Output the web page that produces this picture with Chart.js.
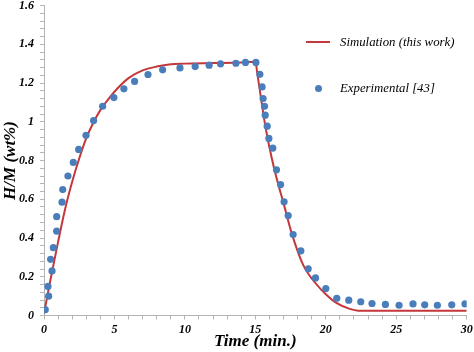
<!DOCTYPE html>
<html>
<head>
<meta charset="utf-8">
<script src="https://cdn.jsdelivr.net/npm/chart.js@4.4.1/dist/chart.umd.min.js"></script>
<style>
    html, body { margin: 0; padding: 0; background: #fff; }
    #wrap { position: relative; width: 474px; height: 352px; overflow: hidden; }
    #legend { position: absolute; left: 0; top: 0; font-family: "Liberation Serif", serif; font-style: italic; font-size: 12.8px; color: #000; }
    .row { position: absolute; left: 300px; height: 16px; line-height: 16px; white-space: nowrap; }
    .row .txt { position: absolute; left: 40px; top: 0; }
    .swatch-line { position: absolute; left: 6px; top: 7px; width: 24px; height: 2px; background: #c4373b; }
    .swatch-dot { position: absolute; left: 14.5px; top: 4.5px; width: 7px; height: 7px; border-radius: 50%; background: #4a7ebb; }
</style>
</head>
<body>
<div id="wrap">
    <canvas id="chart" width="474" height="352"></canvas>
    <div id="legend">
        <div class="row" style="top:34px"><span class="swatch-line"></span><span class="txt">Simulation (this work)</span></div>
        <div class="row" style="top:80px"><span class="swatch-dot"></span><span class="txt">Experimental [43]</span></div>
    </div>
</div>
<script>
// Simulation curve (min, wt%)
const simTime = [0, 0.5, 1, 1.5, 2, 2.5, 3, 3.5, 4, 4.5, 5, 6, 7, 8, 9, 10, 12, 14, 15,
                 15.15, 15.72, 16.33, 17, 17.6, 18.4, 19.35, 20, 20.75, 21.7, 22.3, 25, 30];
const simHM   = [0.01, 0.2, 0.38, 0.55, 0.69, 0.81, 0.915, 0.995, 1.06, 1.11, 1.155, 1.225, 1.265, 1.285, 1.297, 1.3, 1.303, 1.306, 1.31,
                 1.243, 0.973, 0.76, 0.58, 0.42, 0.26, 0.16, 0.11, 0.065, 0.034, 0.025, 0.025, 0.025];

// Experimental points [43]
const expTime = [0.09, 0.28, 0.33, 0.47, 0.57, 0.66, 0.9, 0.9, 1.28, 1.33, 1.7, 2.08, 2.46, 2.98, 3.52, 4.16, 4.96, 5.67,
                 6.43, 7.38, 8.42, 9.65, 10.73, 11.72, 12.53, 13.62, 14.3, 15.04, 15.32, 15.48, 15.55, 15.65, 15.7, 15.84,
                 15.96, 16.24, 16.5, 16.79, 17.04, 17.33, 17.68, 18.23, 18.75, 19.27, 20, 20.78, 21.63, 22.48, 23.28,
                 24.23, 25.2, 26.19, 27.02, 27.92, 28.94, 29.88];
const expHM   = [0.03, 0.15, 0.1, 0.29, 0.23, 0.35, 0.435, 0.51, 0.585, 0.65, 0.72, 0.79, 0.857, 0.93, 1.006, 1.08, 1.125, 1.17,
                 1.208, 1.244, 1.268, 1.278, 1.285, 1.292, 1.299, 1.302, 1.306, 1.306, 1.245, 1.18, 1.12, 1.08, 1.034, 0.977,
                 0.914, 0.864, 0.752, 0.676, 0.587, 0.516, 0.418, 0.334, 0.241, 0.194, 0.139, 0.089, 0.079, 0.071, 0.062,
                 0.057, 0.053, 0.06, 0.055, 0.053, 0.055, 0.06];

const axisColor = '#b4b4b4';
const tickFont = { family: 'Liberation Serif', weight: 'bold', style: 'italic', size: 12 };

function toPoints(xs, ys) {
    return xs.map((x, i) => ({ x: x, y: ys[i] }));
}

// only label every 5 min / every 0.2 wt%, the rest are minor ticks
function majorLabel(value, every) {
    const r = value / every;
    if (Math.abs(r - Math.round(r)) > 1e-6) return '';
    return String(Math.round(value * 10) / 10);
}

new Chart(document.getElementById('chart'), {
    type: 'scatter',
    data: {
        datasets: [
            {
                label: 'Experimental [43]',
                data: toPoints(expTime, expHM),
                pointRadius: 3.6,
                pointBackgroundColor: '#4a7ebb',
                pointBorderWidth: 0,
                order: 0
            },
            {
                label: 'Simulation (this work)',
                data: toPoints(simTime, simHM),
                showLine: true,
                borderColor: '#c4373b',
                borderWidth: 2,
                pointRadius: 0,
                cubicInterpolationMode: 'monotone',
                order: 1
            }
        ]
    },
    options: {
        responsive: false,
        animation: false,
        layout: { padding: { top: 5.5, right: 7.3, left: 0, bottom: 0 } },
        plugins: { legend: { display: false }, tooltip: { enabled: false } },
        scales: {
            x: {
                type: 'linear',
                min: 0, max: 30,
                ticks: {
                    stepSize: 1, autoSkip: false, maxRotation: 0, padding: 3,
                    color: '#000', font: tickFont,
                    callback: (v) => majorLabel(v, 5)
                },
                grid: { drawOnChartArea: false, tickLength: 4, color: axisColor },
                border: { color: axisColor },
                title: {
                    display: true, text: 'Time (min.)', color: '#000', padding: 0,
                    font: { family: 'Liberation Serif', weight: 'bold', style: 'italic', size: 17 }
                },
                afterFit: (scale) => {
                    scale.height = 36.5;
                    scale.paddingLeft = 0;
                    scale.paddingRight = 0;
                }
            },
            y: {
                min: 0, max: 1.6,
                ticks: {
                    stepSize: 0.04, autoSkip: false, padding: 6,
                    color: '#000', font: tickFont,
                    callback: (v) => majorLabel(v, 0.2)
                },
                grid: { drawOnChartArea: false, tickLength: 4, color: axisColor },
                border: { color: axisColor },
                title: {
                    display: true, text: 'H/M (wt%)', color: '#000', padding: 0,
                    font: { family: 'Liberation Serif', weight: 'bold', style: 'italic', size: 17 }
                },
                afterFit: (scale) => {
                    scale.width = 44;
                    scale.paddingTop = 0;
                    scale.paddingBottom = 0;
                }
            }
        }
    }
});
</script>
</body>
</html>
